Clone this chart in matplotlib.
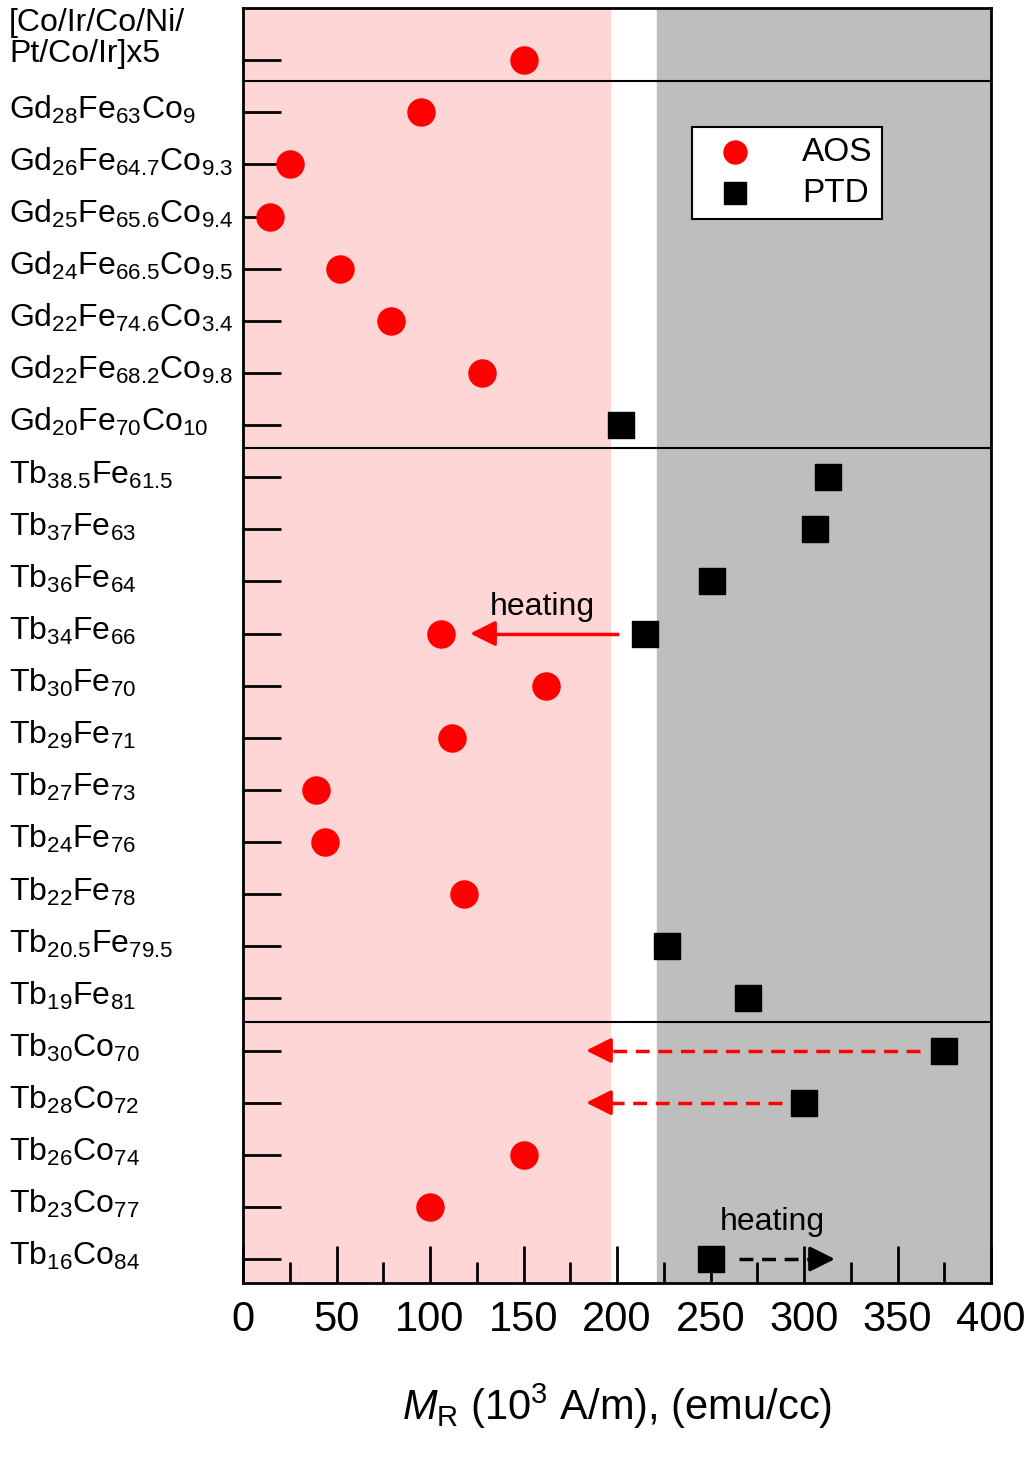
import matplotlib
matplotlib.use("Agg")
import matplotlib.pyplot as plt
from matplotlib.ticker import MultipleLocator

plt.rcParams['font.family'] = 'Liberation Sans'
plt.rcParams['mathtext.fontset'] = 'custom'
plt.rcParams['mathtext.rm'] = 'Liberation Sans'
plt.rcParams['mathtext.it'] = 'Liberation Sans:italic'

labels = ['[Co/Ir/Co/Ni/\nPt/Co/Ir]x5',
          r'Gd$_{28}$Fe$_{63}$Co$_{9}$', r'Gd$_{26}$Fe$_{64.7}$Co$_{9.3}$',
          r'Gd$_{25}$Fe$_{65.6}$Co$_{9.4}$', r'Gd$_{24}$Fe$_{66.5}$Co$_{9.5}$',
          r'Gd$_{22}$Fe$_{74.6}$Co$_{3.4}$', r'Gd$_{22}$Fe$_{68.2}$Co$_{9.8}$',
          r'Gd$_{20}$Fe$_{70}$Co$_{10}$',
          r'Tb$_{38.5}$Fe$_{61.5}$', r'Tb$_{37}$Fe$_{63}$', r'Tb$_{36}$Fe$_{64}$',
          r'Tb$_{34}$Fe$_{66}$', r'Tb$_{30}$Fe$_{70}$', r'Tb$_{29}$Fe$_{71}$',
          r'Tb$_{27}$Fe$_{73}$', r'Tb$_{24}$Fe$_{76}$', r'Tb$_{22}$Fe$_{78}$',
          r'Tb$_{20.5}$Fe$_{79.5}$', r'Tb$_{19}$Fe$_{81}$',
          r'Tb$_{30}$Co$_{70}$', r'Tb$_{28}$Co$_{72}$', r'Tb$_{26}$Co$_{74}$',
          r'Tb$_{23}$Co$_{77}$', r'Tb$_{16}$Co$_{84}$']

aos_rows = [0, 1, 2, 3, 4, 5, 6, 11, 12, 13, 14, 15, 16, 21, 22]
aos_vals = [150, 95, 25, 14.5, 52, 79, 128, 106, 162, 112, 39, 44, 118, 150, 100]
ptd_rows = [7, 8, 9, 10, 11, 17, 18, 19, 20, 23]
ptd_vals = [202, 313, 306, 251, 215, 227, 270, 375, 300, 250]

fig = plt.figure(figsize=(10.25, 14.61), dpi=100)
ax = fig.add_axes([243/1025, 1 - 1283/1461, 748/1025, 1275/1461])

ax.axvspan(0, 196, color='#ffd6d6', zorder=0)
ax.axvspan(221.5, 400, color='#bebebe', zorder=0)
for yl in [0.4, 7.45, 18.45]:
    ax.axhline(yl, color='black', lw=1.5)

ax.scatter(aos_vals, aos_rows, s=380, color='#ff0000', marker='o', label='AOS', zorder=3)
ax.scatter(ptd_vals, ptd_rows, s=330, color='black', marker='s', label='PTD', zorder=3)


def arrow(x0, x1, y, color, dashed):
    # dashed shaft, solid head
    head = 14 if x1 < x0 else -14
    ax.plot([x0, x1 + head * 0.5], [y, y], color=color, lw=2.5,
            ls=(0, (4, 2.5)) if dashed else '-', zorder=2)
    ax.annotate('', xy=(x1, y), xytext=(x1 + head, y),
                arrowprops=dict(arrowstyle='-|>', color=color, lw=2.5, mutation_scale=38))


arrow(200, 120, 11, '#ff0000', False)
ax.text(160, 10.65, 'heating', fontsize=23, ha='center')
arrow(362, 182, 19, '#ff0000', True)
arrow(288, 182, 20, '#ff0000', True)
arrow(265, 318, 23, 'black', True)
ax.text(283, 22.45, 'heating', fontsize=23, ha='center')

ax.set_xlim(0, 400)
ax.set_ylim(23.46, -1)
ax.xaxis.set_major_locator(MultipleLocator(50))
ax.xaxis.set_minor_locator(MultipleLocator(25))
ax.tick_params(axis='x', which='major', direction='in', length=27, width=2, labelsize=30, pad=12)
ax.tick_params(axis='x', which='minor', direction='in', length=15, width=2)
ax.set_yticks(range(len(labels)))
ax.set_yticklabels([])
ax.tick_params(axis='y', direction='in', length=27, width=2)
for i, lab in enumerate(labels):
    ax.text(-0.313, i + (-0.05 if i else -0.42), lab, transform=ax.get_yaxis_transform(),
            fontsize=23, ha='left', va='center', linespacing=1.05)
for s in ax.spines.values():
    s.set_linewidth(2)

ax.set_xlabel(r'$M_{\rm R}$ (10$^3$ A/m), (emu/cc)', fontsize=30, labelpad=30)
leg = ax.legend(loc='upper right', bbox_to_anchor=(0.877, 0.92), fontsize=24,
                fancybox=False, edgecolor='black', framealpha=1, handletextpad=1.0,
                borderpad=0.3, labelspacing=0.3, markerscale=0.85)
leg.get_frame().set_linewidth(1.5)

fig.savefig('out.png', dpi=100)
